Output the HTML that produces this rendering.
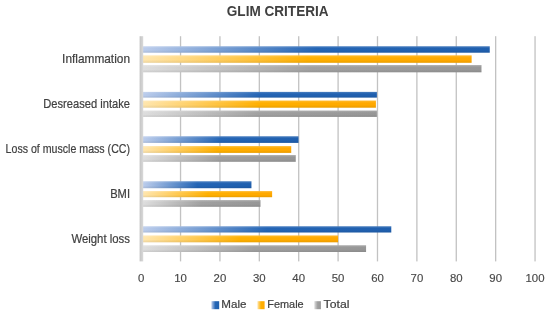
<!DOCTYPE html>
<html lang="en"><head><meta charset="utf-8"><title>GLIM Criteria</title>
<style>html,body{margin:0;padding:0;background:#fff;}body{width:550px;height:316px;overflow:hidden;}svg{display:block;}text{font-family:"Liberation Sans","DejaVu Sans",sans-serif;}</style>
</head><body>
<svg width="550" height="316" viewBox="0 0 550 316">
<defs>
<linearGradient id="b" x1="0" y1="0" x2="1" y2="0"><stop offset="0" stop-color="#bccdec"/><stop offset="0.5" stop-color="#2465b5"/><stop offset="1" stop-color="#1f5fae"/></linearGradient>
<linearGradient id="y" x1="0" y1="0" x2="1" y2="0"><stop offset="0" stop-color="#ffe6ae"/><stop offset="0.5" stop-color="#ffb000"/><stop offset="1" stop-color="#ffa800"/></linearGradient>
<linearGradient id="g" x1="0" y1="0" x2="1" y2="0"><stop offset="0" stop-color="#dedede"/><stop offset="0.5" stop-color="#a0a0a0"/><stop offset="1" stop-color="#969696"/></linearGradient>
<linearGradient id="ax" x1="0" y1="0" x2="1" y2="0"><stop offset="0" stop-color="#c4c4c4"/><stop offset="1" stop-color="#d9d9d9"/></linearGradient>
<linearGradient id="sh" x1="0" y1="0" x2="0" y2="1"><stop offset="0" stop-color="#ffffff" stop-opacity="0.18"/><stop offset="0.35" stop-color="#ffffff" stop-opacity="0"/><stop offset="0.6" stop-color="#000000" stop-opacity="0"/><stop offset="1" stop-color="#000000" stop-opacity="0.08"/></linearGradient>
</defs>
<rect width="550" height="316" fill="#ffffff"/>
<rect x="179.89" y="36.2" width="1.3" height="225.2" fill="#c2c2c2"/>
<rect x="219.28" y="36.2" width="1.3" height="225.2" fill="#c2c2c2"/>
<rect x="258.67" y="36.2" width="1.3" height="225.2" fill="#c2c2c2"/>
<rect x="298.06" y="36.2" width="1.3" height="225.2" fill="#c2c2c2"/>
<rect x="337.45" y="36.2" width="1.3" height="225.2" fill="#c2c2c2"/>
<rect x="376.84" y="36.2" width="1.3" height="225.2" fill="#c2c2c2"/>
<rect x="416.23" y="36.2" width="1.3" height="225.2" fill="#c2c2c2"/>
<rect x="455.62" y="36.2" width="1.3" height="225.2" fill="#c2c2c2"/>
<rect x="495.01" y="36.2" width="1.3" height="225.2" fill="#c2c2c2"/>
<rect x="534.40" y="36.2" width="1.3" height="225.2" fill="#c2c2c2"/>
<rect x="143.00" y="46.30" width="346.75" height="6.40" fill="url(#b)"/>
<rect x="143.00" y="46.30" width="346.75" height="6.40" fill="url(#sh)"/>
<rect x="143.00" y="55.40" width="328.63" height="7.40" fill="url(#y)"/>
<rect x="143.00" y="55.40" width="328.63" height="7.40" fill="url(#sh)"/>
<rect x="143.00" y="65.10" width="338.48" height="7.20" fill="url(#g)"/>
<rect x="143.00" y="65.10" width="338.48" height="7.20" fill="url(#sh)"/>
<rect x="143.00" y="91.90" width="233.90" height="5.70" fill="url(#b)"/>
<rect x="143.00" y="91.90" width="233.90" height="5.70" fill="url(#sh)"/>
<rect x="143.00" y="100.60" width="232.91" height="7.10" fill="url(#y)"/>
<rect x="143.00" y="100.60" width="232.91" height="7.10" fill="url(#sh)"/>
<rect x="143.00" y="110.60" width="233.90" height="6.30" fill="url(#g)"/>
<rect x="143.00" y="110.60" width="233.90" height="6.30" fill="url(#sh)"/>
<rect x="143.00" y="136.30" width="155.51" height="6.60" fill="url(#b)"/>
<rect x="143.00" y="136.30" width="155.51" height="6.60" fill="url(#sh)"/>
<rect x="143.00" y="146.10" width="148.23" height="6.80" fill="url(#y)"/>
<rect x="143.00" y="146.10" width="148.23" height="6.80" fill="url(#sh)"/>
<rect x="143.00" y="155.10" width="152.76" height="6.70" fill="url(#g)"/>
<rect x="143.00" y="155.10" width="152.76" height="6.70" fill="url(#sh)"/>
<rect x="143.00" y="181.30" width="108.44" height="6.90" fill="url(#b)"/>
<rect x="143.00" y="181.30" width="108.44" height="6.90" fill="url(#sh)"/>
<rect x="143.00" y="191.10" width="129.12" height="6.10" fill="url(#y)"/>
<rect x="143.00" y="191.10" width="129.12" height="6.10" fill="url(#sh)"/>
<rect x="143.00" y="200.10" width="117.50" height="6.70" fill="url(#g)"/>
<rect x="143.00" y="200.10" width="117.50" height="6.70" fill="url(#sh)"/>
<rect x="143.00" y="226.30" width="248.28" height="6.20" fill="url(#b)"/>
<rect x="143.00" y="226.30" width="248.28" height="6.20" fill="url(#sh)"/>
<rect x="143.00" y="235.50" width="195.10" height="6.80" fill="url(#y)"/>
<rect x="143.00" y="235.50" width="195.10" height="6.80" fill="url(#sh)"/>
<rect x="143.00" y="245.30" width="223.07" height="6.70" fill="url(#g)"/>
<rect x="143.00" y="245.30" width="223.07" height="6.70" fill="url(#sh)"/>
<rect x="139.6" y="36.2" width="3.6" height="225.2" fill="url(#ax)"/>
<text x="226.8" y="15.7" font-size="14" font-weight="bold" fill="#404040" textLength="101.8" lengthAdjust="spacingAndGlyphs">GLIM CRITERIA</text>
<text x="62.1" y="63.2" font-size="12.2" fill="#404040" stroke="#404040" stroke-width="0.2" textLength="67.9" lengthAdjust="spacingAndGlyphs">Inflammation</text>
<text x="43.3" y="108.2" font-size="12.2" fill="#404040" stroke="#404040" stroke-width="0.2" textLength="86.7" lengthAdjust="spacingAndGlyphs">Desreased intake</text>
<text x="5.6" y="153.1" font-size="12.2" fill="#404040" stroke="#404040" stroke-width="0.2" textLength="124.4" lengthAdjust="spacingAndGlyphs">Loss of muscle mass (CC)</text>
<text x="110.2" y="198.1" font-size="12.2" fill="#404040" stroke="#404040" stroke-width="0.2" textLength="19.8" lengthAdjust="spacingAndGlyphs">BMI</text>
<text x="71.4" y="243.1" font-size="12.2" fill="#404040" stroke="#404040" stroke-width="0.2" textLength="58.6" lengthAdjust="spacingAndGlyphs">Weight loss</text>
<text x="141.2" y="281.5" font-size="11.4" fill="#484848" stroke="#484848" stroke-width="0.15" text-anchor="middle">0</text>
<text x="180.5" y="281.5" font-size="11.4" fill="#484848" stroke="#484848" stroke-width="0.15" text-anchor="middle">10</text>
<text x="219.9" y="281.5" font-size="11.4" fill="#484848" stroke="#484848" stroke-width="0.15" text-anchor="middle">20</text>
<text x="259.3" y="281.5" font-size="11.4" fill="#484848" stroke="#484848" stroke-width="0.15" text-anchor="middle">30</text>
<text x="298.7" y="281.5" font-size="11.4" fill="#484848" stroke="#484848" stroke-width="0.15" text-anchor="middle">40</text>
<text x="338.1" y="281.5" font-size="11.4" fill="#484848" stroke="#484848" stroke-width="0.15" text-anchor="middle">50</text>
<text x="377.5" y="281.5" font-size="11.4" fill="#484848" stroke="#484848" stroke-width="0.15" text-anchor="middle">60</text>
<text x="416.9" y="281.5" font-size="11.4" fill="#484848" stroke="#484848" stroke-width="0.15" text-anchor="middle">70</text>
<text x="456.3" y="281.5" font-size="11.4" fill="#484848" stroke="#484848" stroke-width="0.15" text-anchor="middle">80</text>
<text x="495.7" y="281.5" font-size="11.4" fill="#484848" stroke="#484848" stroke-width="0.15" text-anchor="middle">90</text>
<text x="535.0" y="281.5" font-size="11.4" fill="#484848" stroke="#484848" stroke-width="0.15" text-anchor="middle">100</text>
<rect x="211.4" y="301.2" width="7.8" height="8" fill="url(#b)"/>
<text x="221.3" y="308.1" font-size="11.6" fill="#404040" stroke="#404040" stroke-width="0.2" textLength="25.2" lengthAdjust="spacingAndGlyphs">Male</text>
<rect x="257.4" y="301.2" width="7.2" height="8" fill="url(#y)"/>
<text x="267.3" y="308.1" font-size="11.6" fill="#404040" stroke="#404040" stroke-width="0.2" textLength="36.4" lengthAdjust="spacingAndGlyphs">Female</text>
<rect x="314.3" y="301.2" width="6.6" height="8" fill="url(#g)"/>
<text x="323.6" y="308.1" font-size="11.6" fill="#404040" stroke="#404040" stroke-width="0.2" textLength="25.8" lengthAdjust="spacingAndGlyphs">Total</text>
</svg>
</body></html>
